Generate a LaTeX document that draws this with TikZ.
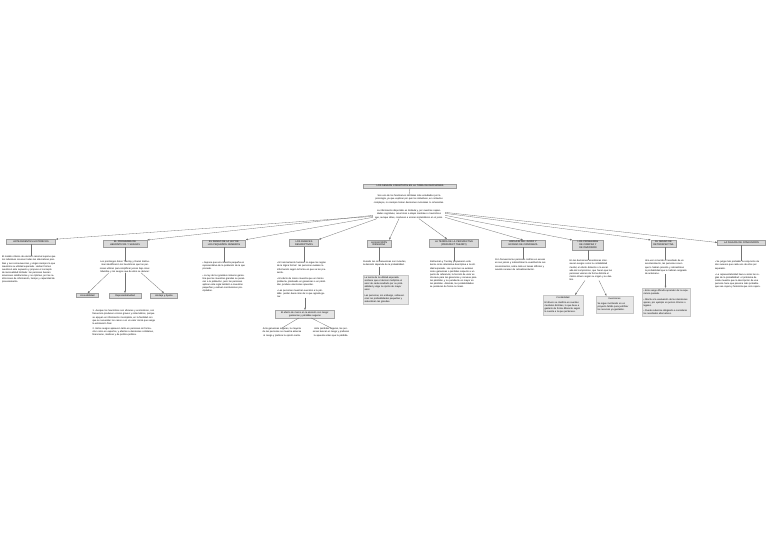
\documentclass[tikz,border=0pt]{standalone}
\usepackage{fontspec}
\setmainfont{Liberation Sans}
\usetikzlibrary{arrows.meta}
\newcommand\txf{\fontsize{2.35}{3.05}\selectfont}
\newcommand\hdf{\fontsize{2.4}{2.9}\selectfont}
\tikzset{
 hdr/.style={draw=black!38, fill=black!15, line width=0.3pt, font=\hdf, align=center, inner xsep=1.5pt, inner ysep=1.1pt},
 txt/.style={font=\txf, align=left, inner sep=0pt, anchor=north},
 gbox/.style={txt, fill=black!9, draw=black!22, line width=0.2pt, inner sep=1.6pt},
 con/.style={draw=black!55, line width=0.3pt},
 arr/.style={con, -{Latex[length=2.2pt,width=1.8pt]}},
}
\begin{document}
\begin{tikzpicture}[x=1pt,y=-1pt]
\fill[white] (0,0) rectangle (768,543);
\useasboundingbox (0,0) rectangle (768,543);

% title and introduction
\node[hdr, text width=90pt] (title) at (410,186) {LOS SESGOS COGNITIVOS EN LA TOMA DE DECISIONES};
\node[txt, align=center, text width=72pt] (i1) at (409,195) {Son uno de los fenómenos mentales más estudiados por la psicología, ya que explican por qué los individuos, en contextos complejos, no siempre toman decisiones racionales ni coherentes.};
\node[txt, align=center, text width=72pt] (i2) at (409,210) {La información disponible es limitada y, por nuestras capacidades cognitivas, recurrimos a atajos mentales o heurísticos que, aunque útiles, conducen a errores sistemáticos en el juicio.};
\draw[con] (title.south) -- (i1.north);

% headers
\node[hdr, text width=46pt] (h1) at (31,241.5) {ANTECEDENTES HISTÓRICOS};
\node[hdr, text width=41pt] (h2) at (125,243.5) {EL PROGRAMA DE\\HEURÍSTICOS Y SESGOS};
\node[hdr, text width=40pt] (h3) at (224,243.5) {EL SESGO DE LA LEY DE\\LOS PEQUEÑOS NÚMEROS};
\node[hdr, text width=26pt] (h4) at (304,243) {LOS AVANCES\\DESCRIPTIVOS};
\node[hdr, text width=21pt] (h5) at (379,243.5) {LA ELECCIÓN\\RIESGOSA};
\node[hdr, text width=46pt] (h6) at (454,243) {LA TEORÍA DE LA PERSPECTIVA\\(PROSPECT THEORY)};
\node[hdr, text width=41pt] (h7) at (523,243.5) {ANCLAJE DEL JUICIO Y\\EXCESO DE CONFIANZA};
\node[hdr, text width=28pt] (h8) at (588,245) {LOS PROBLEMAS\\DE COMPRA Y\\DE INVERSIÓN};
\node[hdr, text width=22pt] (h9) at (663.5,243.5) {EL SESGO DE\\RETROSPECTIVA};
\node[hdr, text width=45pt] (h10) at (741.5,242.5) {LA FALACIA DE CONJUNCIÓN};

% connectors from the introduction
\draw[arr] ([yshift=-2pt]i2.west) -- (h1.north east);
\draw[arr] ([yshift=-1pt]i2.west) -- (h2.north east);
\draw[arr] ([yshift=-3pt]i2.west) -- (h3.north east);
\draw[arr] ([xshift=4pt]i2.south west) -- (h4.north east);
\draw[arr] ([xshift=-10pt]i2.south) -- ([xshift=-2pt]h5.north east);
\draw[arr] ([xshift=10pt]i2.south) -- ([xshift=-7pt]h6.north);
\draw[arr] ([yshift=-3pt]i2.east) -- (h7.north);
\draw[arr] ([yshift=-1pt]i2.east) -- (h8.north west);
\draw[arr] ([yshift=1pt]i2.east) -- (h9.north west);
\draw[arr] ([yshift=2pt]i2.east) -- (h10.west);

% column 1
\node[txt, text width=54pt] (t1) at (29,256) {El modelo clásico de elección racional supone que los individuos conocen todas las alternativas posibles y sus consecuencias, y eligen siempre la que maximiza su utilidad esperada. Herbert Simon cuestionó este supuesto y propuso el concepto de racionalidad limitada: las personas buscan soluciones satisfactorias y no óptimas, por las restricciones de información, tiempo y capacidad de procesamiento.};
\draw[con] (h1.south) -- (h1.south |- t1.north);

% column 2
\node[txt, align=center, text width=58pt] (t2) at (125,261) {Los psicólogos Amos Tversky y Daniel Kahneman identificaron los heurísticos que las personas utilizan para simplificar juicios bajo incertidumbre y los sesgos que de ellos se derivan:};
\draw[con] (h2.south) -- (h2.south |- t2.north);
\node[hdr, text width=19pt] (b21) at (87.5,295.5) {Accesibilidad};
\node[hdr, text width=29pt] (b22) at (125,295.5) {Representatividad};
\node[hdr, text width=24pt] (b23) at (164,295.5) {Anclaje y Ajuste};
\draw[arr] ([xshift=-16pt]t2.south) -- (b21.north);
\draw[arr] (t2.south) -- (b22.north);
\draw[arr] ([xshift=16pt]t2.south) -- (b23.north);
\node[txt, text width=64pt] (t2b) at (124.5,310) {1. Aunque los heurísticos son eficaces y económicos, con frecuencia producen errores graves y sistemáticos, porque se apoyan en información incompleta, en la facilidad con que se recuerdan los casos o en un valor inicial que sesga la estimación final.\\[2.4pt]
2. Estos sesgos aparecen tanto en personas sin formación como en expertos, y afectan a decisiones cotidianas, financieras, médicas y de política pública.};

% column 3
\node[txt, text width=43pt] (t3) at (224,262) {• Supone que una muestra pequeña es representativa de la población de la que procede.\\[3pt]
• La ley de los grandes números garantiza que las muestras grandes se parezcan a la población, pero las personas aplican esta regla también a muestras pequeñas y extraen conclusiones precipitadas.};
\draw[con] (h3.south) -- (h3.south |- t3.north);

% column 4
\node[txt, text width=50pt] (t4) at (302,262) {• El razonamiento humano no sigue las reglas de la lógica formal: las personas evalúan la información según la forma en que se les presenta.\\[3pt]
• El efecto de marco muestra que un mismo problema, planteado en ganancias o en pérdidas, produce elecciones opuestas.\\[3pt]
• Las personas muestran aversión a la pérdida: perder duele más de lo que agrada ganar.};
\draw[con] (h4.south) -- (h4.south |- t4.north);
\node[hdr, fill=black!10, draw=black!35, text width=56pt, font=\txf] (b4) at (305,314) {El efecto de marco en la elección con riesgo:\\ganancias y pérdidas seguras};
\draw[arr] (t4.south -| b4.north) -- (b4.north);
\node[txt, align=center, text width=40pt] (t4l) at (282,328) {Ante ganancias seguras, la mayoría de las personas se muestra adversa al riesgo y prefiere la opción cierta.};
\node[txt, align=center, text width=38pt] (t4r) at (331,328) {Ante pérdidas seguras, las personas buscan el riesgo y prefieren la apuesta antes que la pérdida.};
\draw[con] ([xshift=-6pt]b4.south) -- (t4l.north);
\draw[con] ([xshift=6pt]b4.south) -- (t4r.north);

% column 5
\node[txt, text width=44pt] (t5) at (385,261) {Cuando las consecuencias son inciertas, la decisión depende de la probabilidad.};
\draw[con] (h5.south) -- (h5.south |- t5.north);
\node[gbox, text width=42pt] (g5) at (385.5,275) {La teoría de la utilidad esperada sostiene que el decisor multiplica el valor de cada resultado por su probabilidad y elige la opción de mayor valor.\\[2.5pt]
Las personas, sin embargo, sobrevaloran las probabilidades pequeñas y subestiman las grandes.};
\draw[con] (t5.south -| h5.south) -- (h5.south |- g5.north);

% column 6
\node[txt, text width=47pt] (t6) at (453.5,261) {Kahneman y Tversky propusieron esta teoría como alternativa descriptiva a la utilidad esperada. Las opciones se evalúan como ganancias o pérdidas respecto a un punto de referencia; la función de valor es cóncava para las ganancias y convexa para las pérdidas, y su pendiente es mayor en las pérdidas. Además, las probabilidades se ponderan de forma no lineal.};
\draw[con] (h6.south) -- (h6.south |- t6.north);

% column 7
\node[txt, text width=53pt] (t7) at (521.5,259) {Con frecuencia las personas confían en exceso en sus juicios y sobrestiman la exactitud de sus conocimientos, sobre todo en tareas difíciles y cuando carecen de retroalimentación.};
\draw[con] (h7.south) -- (h7.south |- t7.north);

% column 8
\node[txt, text width=43pt] (t8) at (591,260) {En las decisiones económicas intervienen sesgos como la contabilidad mental, el efecto dotación o la escalada del compromiso, que hacen que las personas valoren de forma distinta el mismo dinero según su origen y su destino.};
\draw[con] (h8.south) -- (h8.south |- t8.north);
\node[gbox, text width=37pt] (g8l) at (563,295) {\centering Contabilidad\par\vspace{2pt}
El dinero se clasifica en cuentas mentales distintas, lo que lleva a gastarlo de forma diferente según la cuenta a la que pertenece.};
\node[gbox, text width=34pt] (g8r) at (614.5,296) {\centering Inversiones\par\vspace{2pt}
Se sigue invirtiendo en un proyecto fallido para justificar los recursos ya gastados.};
\draw[arr] ([xshift=-6pt]t8.south) -- ([xshift=12pt]g8l.north);
\draw[arr] ([xshift=8pt]t8.south) -- ([xshift=-8pt]g8r.north);

% column 9
\node[txt, text width=43pt] (t9) at (666.5,260) {Una vez conocido el resultado de un acontecimiento, las personas creen que lo habían previsto y sobrestiman la probabilidad que le habrían asignado de antemano.};
\draw[con] ([xshift=2pt]h9.south) -- ([xshift=2pt]h9.south |- t9.north);
\node[gbox, text width=45pt] (g9) at (666,288) {• Este sesgo dificulta aprender de la experiencia pasada.\\[2.5pt]
• Afecta a la evaluación de las decisiones ajenas, por ejemplo en juicios clínicos o legales.\\[2.5pt]
• Puede reducirse obligando a considerar los resultados alternativos.};
\draw[arr] ([xshift=2pt]h9.south |- t9.south) -- ([xshift=2pt]h9.south |- g9.north);

% column 10
\node[txt, text width=47pt] (t10) at (738.5,261) {• Se juzga más probable la conjunción de dos sucesos que cada uno de ellos por separado.\\[3pt]
• La representatividad lleva a violar las reglas de la probabilidad: el problema de Linda muestra que la descripción de una persona hace que parezca más probable que sea cajera y feminista que solo cajera.};
\draw[con] (h10.south) -- (h10.south |- t10.north);
\end{tikzpicture}
\end{document}
